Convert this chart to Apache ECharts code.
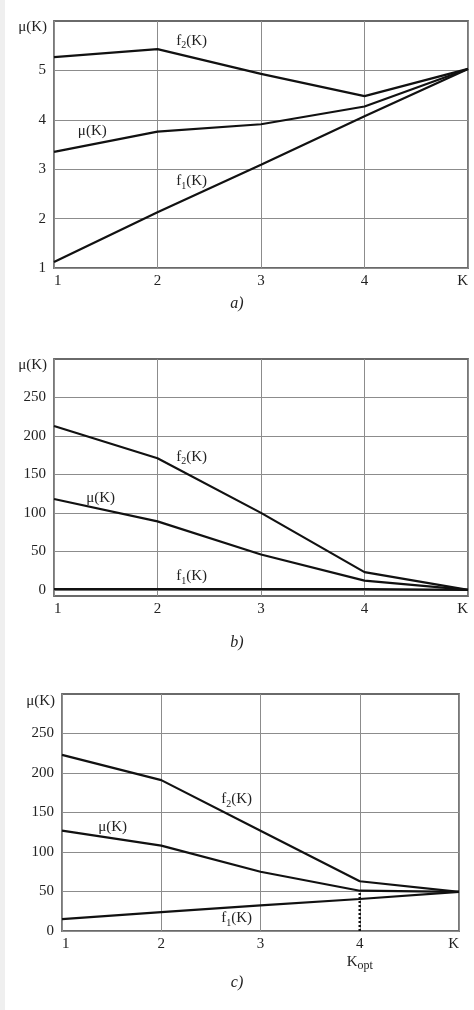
<!DOCTYPE html>
<html>
<head>
    <meta charset="utf-8" />
    <title>μ(K)</title>
    <script src="https://cdn.jsdelivr.net/npm/echarts@6/dist/echarts.min.js"></script>
    <style>
        html, body { margin: 0; padding: 0; background: #fff; }
    </style>
</head>
<body>
    <div style="width:474px;height:1010px;" id="echart"></div>
</body>
</html>
<script>
    // K values on the x axis, last one is labelled "K"
    var kValues = [1, 2, 3, 4, 5];
    var xLabels = ['1', '2', '3', '4', 'K'];

    // panel a)
    var f2A = [5.27, 5.43, 4.93, 4.48, 5.03];
    var muA = [3.35, 3.76, 3.91, 4.27, 5.03];
    var f1A = [1.12, 2.13, 3.09, 4.07, 5.03];
    var yTicksA = [1, 2, 3, 4, 5];

    // panel b)
    var f2B = [213, 171, 100, 23, 0];
    var muB = [118, 89, 46, 12, 0];
    var f1B = [1, 1, 1, 1, 0];
    var yTicksB = [0, 50, 100, 150, 200, 250];

    // panel c)
    var f2C = [223, 191, 127, 63, 49.5];
    var muC = [127, 108, 75, 51, 49.5];
    var f1C = [15, 24, 32.5, 40.5, 49.5];
    var yTicksC = [0, 50, 100, 150, 200, 250];
    var kOpt = 4;

    var serif = '"Liberation Serif", "DejaVu Serif", serif';
    var gridColor = '#8c8c8c';

    function pairs(vals) {
        return kValues.map(function (k, i) { return [k, vals[i]]; });
    }

    var richSub = {
        n: { fontFamily: serif, fontSize: 15, color: '#222', lineHeight: 20 },
        s: { fontFamily: serif, fontSize: 10, color: '#222', lineHeight: 20, verticalAlign: 'bottom', padding: [8, 0, 0, 0] }
    };

    function tag(x, y, txt) {
        return {
            coord: [x, y],
            symbol: 'circle',
            symbolSize: 0,
            label: { show: true, position: 'inside', formatter: txt, rich: richSub }
        };
    }

    function line(grid, vals, labels) {
        return {
            type: 'line',
            xAxisIndex: grid,
            yAxisIndex: grid,
            data: pairs(vals),
            showSymbol: false,
            silent: true,
            lineStyle: { color: '#111', width: 2.2 },
            markPoint: labels ? { silent: true, data: labels } : undefined
        };
    }

    function xAxis(grid, extraRich) {
        return {
            type: 'value',
            gridIndex: grid,
            min: 1,
            max: 5,
            interval: 1,
            axisLine: { show: false },
            axisTick: { show: false },
            splitLine: { lineStyle: { color: gridColor, width: 1 } },
            axisLabel: {
                margin: 6,
                fontFamily: serif,
                fontSize: 15,
                color: '#222',
                alignMinLabel: 'left',
                alignMaxLabel: 'right',
                formatter: function (v) {
                    var s = xLabels[kValues.indexOf(v)];
                    if (extraRich && v === kOpt) s = s + '\n{k|K}{o|opt}';
                    return s;
                },
                rich: {
                    k: { fontFamily: serif, fontSize: 15, color: '#222', lineHeight: 20 },
                    o: { fontFamily: serif, fontSize: 12, color: '#222', lineHeight: 20, verticalAlign: 'bottom', padding: [4, 0, 0, 0] }
                }
            }
        };
    }

    function yAxis(grid, min, max, ticks) {
        return {
            type: 'value',
            gridIndex: grid,
            min: min,
            max: max,
            axisLine: { show: false },
            axisTick: { show: false, customValues: ticks },
            splitLine: { lineStyle: { color: gridColor, width: 1 } },
            axisLabel: {
                customValues: ticks,
                margin: 8,
                fontFamily: serif,
                fontSize: 15,
                color: '#222'
            }
        };
    }

    var myChart = echarts.init(document.getElementById('echart'));

    var captionStyle = { fontFamily: serif, fontSize: 16, fontStyle: 'italic', fill: '#222', textAlign: 'center' };
    var nameStyle = { fontFamily: serif, fontSize: 15, fill: '#222', textAlign: 'right', textVerticalAlign: 'middle' };
    var frame = { show: true, borderColor: '#6a6a6a', borderWidth: 1.8, backgroundColor: 'transparent' };

    var option = {
        backgroundColor: '#fff',
        animation: false,
        grid: [
            Object.assign({ left: 54, top: 21, width: 414, height: 247 }, frame),
            Object.assign({ left: 54, top: 359, width: 414, height: 237 }, frame),
            Object.assign({ left: 62, top: 694, width: 397, height: 237 }, frame)
        ],
        xAxis: [xAxis(0), xAxis(1), xAxis(2, true)],
        yAxis: [
            yAxis(0, 1, 6, yTicksA),
            yAxis(1, -8, 300, yTicksB),
            yAxis(2, 0, 300, yTicksC)
        ],
        graphic: [
            // grey strip at the left edge of the scan
            { type: 'rect', left: 0, top: 0, shape: { width: 5, height: 1010 }, style: { fill: '#efefef' }, silent: true },
            { type: 'text', left: 'center', top: 296, style: Object.assign({ text: 'a)' }, captionStyle) },
            { type: 'text', left: 'center', top: 635, style: Object.assign({ text: 'b)' }, captionStyle) },
            { type: 'text', left: 'center', top: 975, style: Object.assign({ text: 'c)' }, captionStyle) },
            { type: 'text', x: 47, y: 27, style: Object.assign({ text: 'μ(K)' }, nameStyle) },
            { type: 'text', x: 47, y: 365, style: Object.assign({ text: 'μ(K)' }, nameStyle) },
            { type: 'text', x: 55, y: 701, style: Object.assign({ text: 'μ(K)' }, nameStyle) }
        ],
        series: [
            line(0, f2A, [tag(2.33, 5.6, '{n|f}{s|2}{n|(K)}')]),
            line(0, muA, [tag(1.37, 3.77, '{n|μ(K)}')]),
            line(0, f1A, [tag(2.33, 2.75, '{n|f}{s|1}{n|(K)}')]),

            line(1, f2B, [tag(2.33, 173, '{n|f}{s|2}{n|(K)}')]),
            line(1, muB, [tag(1.45, 119, '{n|μ(K)}')]),
            line(1, f1B, [tag(2.33, 18, '{n|f}{s|1}{n|(K)}')]),

            line(2, f2C, [tag(2.76, 167, '{n|f}{s|2}{n|(K)}')]),
            line(2, muC, [tag(1.51, 131, '{n|μ(K)}')]),
            line(2, f1C, [tag(2.76, 16, '{n|f}{s|1}{n|(K)}')]),
            {
                // dotted drop line at K opt
                type: 'line',
                xAxisIndex: 2,
                yAxisIndex: 2,
                data: [[kOpt, 0], [kOpt, muC[kValues.indexOf(kOpt)]]],
                showSymbol: false,
                silent: true,
                lineStyle: { color: '#111', width: 2.5, type: [2, 2] }
            }
        ]
    };
    myChart.setOption(option);
</script>
